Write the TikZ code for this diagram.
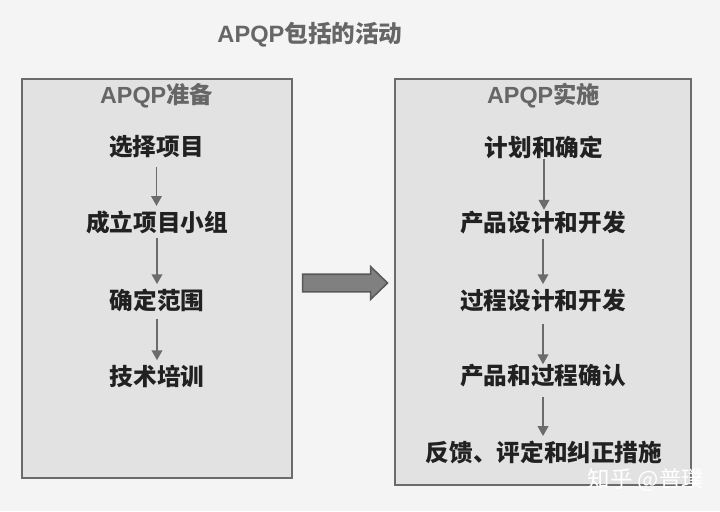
\documentclass[tikz,border=0pt]{standalone}
\usepackage{fontspec}
\setmainfont{Liberation Sans}
\newfontfamily\cjk{Noto Sans CJK SC}
\usetikzlibrary{arrows.meta}
\usetikzlibrary{positioning, shapes.arrows}
\definecolor{pagegray}{gray}{0.955}
\definecolor{boxgray}{gray}{0.885}
\definecolor{linegray}{gray}{0.42}
\definecolor{headgray}{gray}{0.40}
\definecolor{itemgray}{gray}{0.13}
\tikzset{
    panel/.style={draw=linegray, line width=1.1pt, fill=boxgray},
    head/.style={text=headgray, font=\fontsize{16.6}{20}\selectfont\bfseries, inner sep=0pt},
    item/.style={text=itemgray, font=\cjk\fontsize{16.8}{20}\selectfont\bfseries, inner ysep=3pt, inner xsep=0pt},
    flow/.style={draw=linegray, line width=1.3pt, -{Triangle[length=7pt,width=7.5pt]}}
}
\begin{document}
\begin{tikzpicture}[x=0.025cm, y=-0.025cm]
    \useasboundingbox (0,0) rectangle (720,511);
    \fill[pagegray] (0,0) rectangle (720,511);
    \draw[panel] (22,79) rectangle (292,478);
    \draw[panel] (395,79) rectangle (691,485);
    \node[text=headgray, font=\fontsize{16.8}{20}\selectfont\bfseries, inner sep=0pt] (title) at (310,35) {APQP{\cjk 包括的活动}};
    % left
    \node[head] (headl) at (156.5,96) {APQP{\cjk 准备}};
    \node[item] (l1) at (156.5,147) {选择项目};
    \node[item] (l2) at (157,222) {成立项目小组};
    \node[item] (l3) at (157,300) {确定范围};
    \node[item] (l4) at (157,376) {技术培训};
    % right
    \node[head] (headr) at (543.5,96) {APQP{\cjk 实施}};
    \node[item] (r1) at (544,147) {计划和确定};
    \node[item] (r2) at (543,223) {产品设计和开发};
    \node[item] (r3) at (543,300) {过程设计和开发};
    \node[item] (r4) at (543,376) {产品和过程确认};
    \node[item] (r5) at (544,452) {反馈、评定和纠正措施};
    \foreach \a/\b/\s/\e in {l1/l2/3pt/0pt,l2/l3/0pt/0pt,l3/l4/2pt/0pt}{
    \draw[flow, shorten <=\s, shorten >=\e] (\a) -- (\a |- \b.north);}
    \foreach \a/\b/\s/\e in {r1/r2/-3pt/-2pt,r2/r3/0pt/0pt,r3/r4/6pt/-3pt,r4/r5/3.5pt/0pt}{
    \draw[flow, shorten <=\s, shorten >=\e] (\a) -- (\a |- \b.north);}
    \node[single arrow, draw=black!65, line width=1.1pt, fill=black!50, inner sep=0.2cm,
        minimum width=0.8cm, minimum height=2.125cm,
        single arrow head extend=0.19cm, single arrow tip angle=88] (bigarrow) at (340.5,283) {};
    \node[text=white, font=\cjk\fontsize{16}{18}\selectfont, inner sep=0pt] (mark) at (646,480) {知乎 @普璞};
\end{tikzpicture}
\end{document}
